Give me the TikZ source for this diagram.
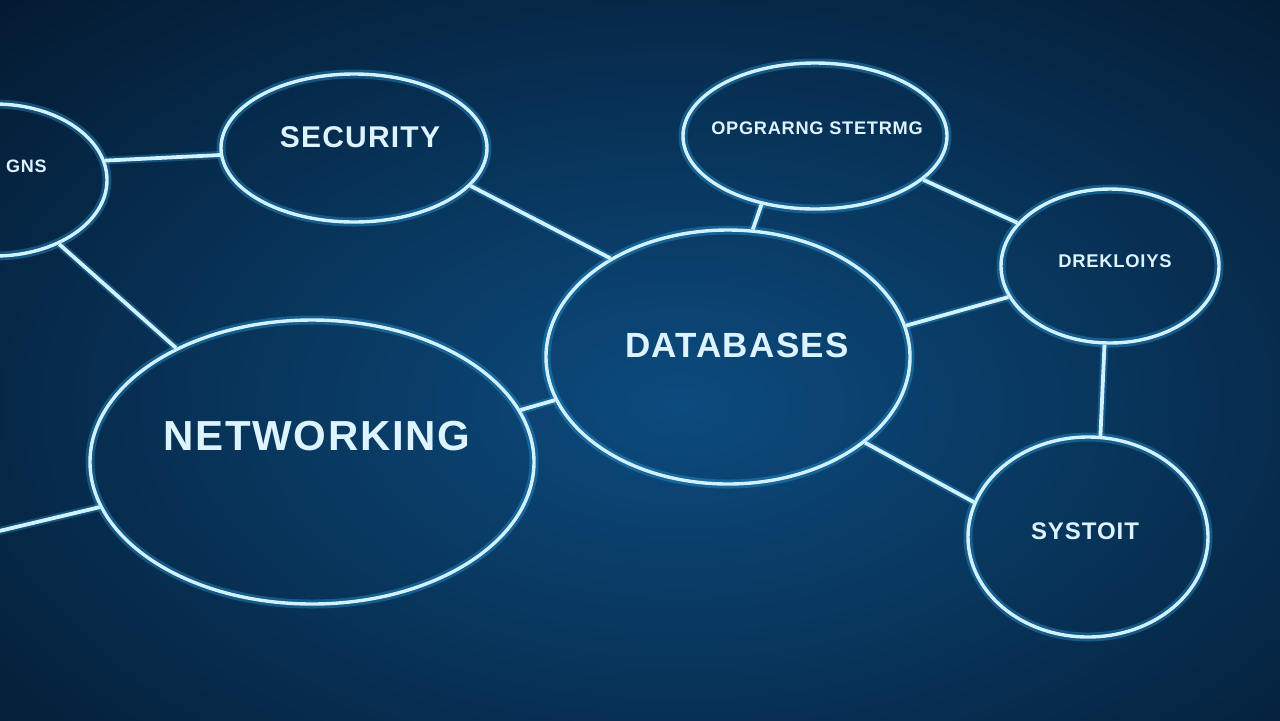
\documentclass[tikz,border=0pt]{standalone}
\usepackage{fontspec}
\usepackage{tikz}
\usetikzlibrary{shapes.geometric}
\newfontfamily\bubblefont{Liberation Sans}[LetterSpace=4]
\definecolor{bgdark}{HTML}{021326}
\definecolor{bgmid}{HTML}{0C4B7E}
\definecolor{rim}{HTML}{D2F1FF}
\definecolor{glow}{HTML}{2FA8E8}
\definecolor{ink}{HTML}{DDF4FF}

\begin{document}
\begin{tikzpicture}[x=0.5pt,y=-0.5pt,
	bubble/.style={ellipse, draw=rim, line width=1.7pt, inner sep=0pt,
		preaction={draw=glow, line width=4.5pt, draw opacity=0.35}},
	link/.style={draw=rim, line width=1.9pt,
		preaction={draw=glow, line width=4pt, draw opacity=0.3}},
	word/.style={text=ink, inner sep=0pt}]
	
	\useasboundingbox (0,0) rectangle (1280,720);
	\clip (0,0) rectangle (1280,720);
	\shade[inner color=bgmid, outer color=bgdark] (-420,-250) rectangle (1780,1060);
	
	\node[bubble, minimum width=112pt, minimum height=76pt] (des) at (-5,180) {};
	\node[bubble, minimum width=133pt, minimum height=74pt] (sec) at (354,148) {};
	\node[bubble, minimum width=132pt, minimum height=73pt] (os) at (815,136) {};
	\node[bubble, minimum width=109pt, minimum height=77pt] (dir) at (1110,266) {};
	\node[bubble, minimum width=182pt, minimum height=127pt] (db) at (728,357) {};
	\node[bubble, minimum width=222pt, minimum height=142pt] (net) at (312,462) {};
	\node[bubble, minimum width=120pt, minimum height=100pt] (sys) at (1088,537) {};
	\coordinate (edge) at (-5,532);
	
	\node[word, anchor=east, font=\bubblefont\bfseries\fontsize{9}{10}\selectfont] (desT) at (47,166) {GNS};
	\node[word, font=\bubblefont\bfseries\fontsize{15}{16}\selectfont] (secT) at (360,137) {SECURITY};
	\node[word, font=\bubblefont\bfseries\fontsize{9.1}{10}\selectfont] (osT) at (817,128) {OPGRARNG STETRMG};
	\node[word, font=\bubblefont\bfseries\fontsize{9.2}{10}\selectfont] (dirT) at (1115,261) {DREKLOIYS};
	\node[word, font=\bubblefont\bfseries\fontsize{17.5}{18}\selectfont] (dbT) at (737,345) {DATABASES};
	\node[word, font=\bubblefont\bfseries\fontsize{21}{22}\selectfont] (netT) at (317,436) {NETWORKING};
	\node[word, font=\bubblefont\bfseries\fontsize{12}{13}\selectfont] (sysT) at (1085,531) {SYSTOIT};
	
	\draw[link] (des.10) -- (sec.183);
	\draw[link] (des.-45) -- (net.140);
	\draw[link] (edge) -- (net.192);
	\draw[link] (sec.-18) -- (db.140);
	\draw[link] (os.-128) -- (db.79);
	\draw[link] (os.-22) -- (dir.155);
	\draw[link] (db.10) -- (dir.197);
	\draw[link] (dir.-94) -- (sys.83);
	\draw[link] (db.-32) -- (sys.163);
	\draw[link] (net.14) -- (db.194);
	
\end{tikzpicture}
\end{document}
